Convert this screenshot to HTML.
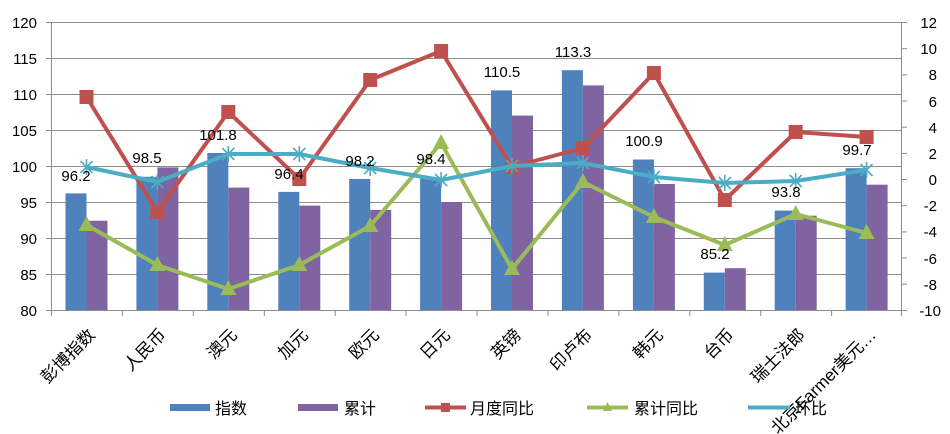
<!DOCTYPE html>
<html><head><meta charset="utf-8"><style>
html,body{margin:0;padding:0;background:#fff;}
svg{display:block;font-family:"Liberation Sans","Noto Sans CJK SC",sans-serif;}
</style></head><body>
<svg width="950" height="434" viewBox="0 0 950 434" xmlns="http://www.w3.org/2000/svg">
<rect width="950" height="434" fill="#fff"/>
<g stroke="#8c8c8c" stroke-width="1">
<line x1="51" y1="22.5" x2="902" y2="22.5"/>
<line x1="51" y1="58.5" x2="902" y2="58.5"/>
<line x1="51" y1="94.5" x2="902" y2="94.5"/>
<line x1="51" y1="130.5" x2="902" y2="130.5"/>
<line x1="51" y1="166.5" x2="902" y2="166.5"/>
<line x1="51" y1="202.5" x2="902" y2="202.5"/>
<line x1="51" y1="238.5" x2="902" y2="238.5"/>
<line x1="51" y1="274.5" x2="902" y2="274.5"/>
</g>
<g fill="#4f81bd">
<rect x="65.5" y="193.4" width="21" height="116.6"/>
<rect x="136.4" y="176.8" width="21" height="133.2"/>
<rect x="207.3" y="153" width="21" height="157"/>
<rect x="278.3" y="191.9" width="21" height="118.1"/>
<rect x="349.2" y="179" width="21" height="131"/>
<rect x="420.1" y="177.5" width="21" height="132.5"/>
<rect x="491" y="90.4" width="21" height="219.6"/>
<rect x="561.9" y="70.2" width="21" height="239.8"/>
<rect x="632.9" y="159.5" width="21" height="150.5"/>
<rect x="703.8" y="272.6" width="21" height="37.4"/>
<rect x="774.7" y="210.6" width="21" height="99.4"/>
<rect x="845.6" y="168.2" width="21" height="141.8"/>
</g>
<g fill="#8064a2">
<rect x="86.5" y="220.7" width="21" height="89.3"/>
<rect x="157.4" y="167.4" width="21" height="142.6"/>
<rect x="228.3" y="187.6" width="21" height="122.4"/>
<rect x="299.3" y="205.6" width="21" height="104.4"/>
<rect x="370.2" y="209.9" width="21" height="100.1"/>
<rect x="441.1" y="202" width="21" height="108"/>
<rect x="512" y="115.6" width="21" height="194.4"/>
<rect x="582.9" y="85.4" width="21" height="224.6"/>
<rect x="653.9" y="184" width="21" height="126"/>
<rect x="724.8" y="268.2" width="21" height="41.8"/>
<rect x="795.7" y="215.7" width="21" height="94.3"/>
<rect x="866.6" y="184.7" width="21" height="125.3"/>
</g>
<g stroke="#8c8c8c" stroke-width="1">
<line x1="51.5" y1="22" x2="51.5" y2="310"/>
<line x1="901.5" y1="22" x2="901.5" y2="310"/>
<line x1="46" y1="310.5" x2="907" y2="310.5"/>
<line x1="51.5" y1="310" x2="51.5" y2="316"/>
<line x1="122.4" y1="310" x2="122.4" y2="316"/>
<line x1="193.3" y1="310" x2="193.3" y2="316"/>
<line x1="264.3" y1="310" x2="264.3" y2="316"/>
<line x1="335.2" y1="310" x2="335.2" y2="316"/>
<line x1="406.1" y1="310" x2="406.1" y2="316"/>
<line x1="477" y1="310" x2="477" y2="316"/>
<line x1="547.9" y1="310" x2="547.9" y2="316"/>
<line x1="618.9" y1="310" x2="618.9" y2="316"/>
<line x1="689.8" y1="310" x2="689.8" y2="316"/>
<line x1="760.7" y1="310" x2="760.7" y2="316"/>
<line x1="831.6" y1="310" x2="831.6" y2="316"/>
<line x1="901.5" y1="310" x2="901.5" y2="316"/>
<line x1="46" y1="22.5" x2="51" y2="22.5"/><line x1="46" y1="58.5" x2="51" y2="58.5"/><line x1="46" y1="94.5" x2="51" y2="94.5"/><line x1="46" y1="130.5" x2="51" y2="130.5"/><line x1="46" y1="166.5" x2="51" y2="166.5"/><line x1="46" y1="202.5" x2="51" y2="202.5"/><line x1="46" y1="238.5" x2="51" y2="238.5"/><line x1="46" y1="274.5" x2="51" y2="274.5"/>
<line x1="902" y1="22.5" x2="907" y2="22.5"/><line x1="902" y1="48.7" x2="907" y2="48.7"/><line x1="902" y1="74.9" x2="907" y2="74.9"/><line x1="902" y1="101" x2="907" y2="101"/><line x1="902" y1="127.2" x2="907" y2="127.2"/><line x1="902" y1="153.4" x2="907" y2="153.4"/><line x1="902" y1="179.5" x2="907" y2="179.5"/><line x1="902" y1="205.7" x2="907" y2="205.7"/><line x1="902" y1="231.9" x2="907" y2="231.9"/><line x1="902" y1="258" x2="907" y2="258"/><line x1="902" y1="284.2" x2="907" y2="284.2"/>
</g>
<g font-size="15" fill="#000" text-anchor="end">
<text x="37" y="28">120</text><text x="37" y="64">115</text><text x="37" y="100">110</text><text x="37" y="136">105</text><text x="37" y="172">100</text><text x="37" y="208">95</text><text x="37" y="244">90</text><text x="37" y="280">85</text><text x="37" y="316">80</text>
</g>
<g font-size="15" fill="#000" text-anchor="end">
<text x="937" y="28">12</text><text x="937" y="54">10</text><text x="937" y="80">8</text><text x="937" y="107">6</text><text x="937" y="133">4</text><text x="937" y="159">2</text><text x="937" y="185">0</text><text x="937" y="211">-2</text><text x="937" y="237">-4</text><text x="937" y="264">-6</text><text x="937" y="290">-8</text><text x="941" y="316">-10</text>
</g>
<polyline fill="none" stroke="#c0504d" stroke-width="4" stroke-linejoin="round" points="86.5,97 157.4,212 228.3,112 299.3,179 370.2,80 441.1,51 512,167 582.9,148 653.9,73 724.8,200 795.7,132 866.6,137"/>
<g fill="#c0504d">
<rect x="79.5" y="90" width="14" height="14"/><rect x="150.4" y="205" width="14" height="14"/><rect x="221.3" y="105" width="14" height="14"/><rect x="292.3" y="172" width="14" height="14"/><rect x="363.2" y="73" width="14" height="14"/><rect x="434.1" y="44" width="14" height="14"/><rect x="505" y="160" width="14" height="14"/><rect x="575.9" y="141" width="14" height="14"/><rect x="646.9" y="66" width="14" height="14"/><rect x="717.8" y="193" width="14" height="14"/><rect x="788.7" y="125" width="14" height="14"/><rect x="859.6" y="130" width="14" height="14"/>
</g>
<polyline fill="none" stroke="#9bbb59" stroke-width="4" stroke-linejoin="round" points="86.5,225 157.4,265 228.3,289 299.3,265 370.2,226 441.1,143 512,269 582.9,182 653.9,217 724.8,245 795.7,214 866.6,233"/>
<g fill="#9bbb59">
<polygon points="86.5,216 94.5,231 78.5,231"/><polygon points="157.4,256 165.4,271 149.4,271"/><polygon points="228.3,280 236.3,295 220.3,295"/><polygon points="299.3,256 307.3,271 291.3,271"/><polygon points="370.2,217 378.2,232 362.2,232"/><polygon points="441.1,134 449.1,149 433.1,149"/><polygon points="512,260 520,275 504,275"/><polygon points="582.9,173 590.9,188 574.9,188"/><polygon points="653.9,208 661.9,223 645.9,223"/><polygon points="724.8,236 732.8,251 716.8,251"/><polygon points="795.7,205 803.7,220 787.7,220"/><polygon points="866.6,224 874.6,239 858.6,239"/>
</g>
<polyline fill="none" stroke="#4bacc6" stroke-width="4" stroke-linejoin="round" points="86.5,167 157.4,182 228.3,154 299.3,154 370.2,168 441.1,180 512,166 582.9,163 653.9,177 724.8,183 795.7,181 866.6,170"/>
<g stroke="#4bacc6" stroke-width="1.6">
<path d="M80.5,161l12,12M92.5,161l-12,12M86.5,159v16"/>
<path d="M151.4,176l12,12M163.4,176l-12,12M157.4,174v16"/>
<path d="M222.3,148l12,12M234.3,148l-12,12M228.3,146v16"/>
<path d="M293.3,148l12,12M305.3,148l-12,12M299.3,146v16"/>
<path d="M364.2,162l12,12M376.2,162l-12,12M370.2,160v16"/>
<path d="M435.1,174l12,12M447.1,174l-12,12M441.1,172v16"/>
<path d="M506,160l12,12M518,160l-12,12M512,158v16"/>
<path d="M576.9,157l12,12M588.9,157l-12,12M582.9,155v16"/>
<path d="M647.9,171l12,12M659.9,171l-12,12M653.9,169v16"/>
<path d="M718.8,177l12,12M730.8,177l-12,12M724.8,175v16"/>
<path d="M789.7,175l12,12M801.7,175l-12,12M795.7,173v16"/>
<path d="M860.6,164l12,12M872.6,164l-12,12M866.6,162v16"/>
</g>
<g font-size="15" fill="#000" text-anchor="middle">
<text x="76" y="181">96.2</text><text x="147" y="163">98.5</text><text x="218" y="140">101.8</text><text x="289" y="179">96.4</text><text x="360" y="166">98.2</text><text x="431" y="164">98.4</text><text x="502" y="77">110.5</text><text x="573" y="57">113.3</text><text x="644" y="146">100.9</text><text x="715" y="259">85.2</text><text x="786" y="197">93.8</text><text x="857" y="155">99.7</text>
</g>
<g font-size="17" fill="#000" text-anchor="end">
<text transform="translate(96,336) rotate(-45)">彭博指数</text>
<text transform="translate(167,336) rotate(-45)">人民币</text>
<text transform="translate(238,336) rotate(-45)">澳元</text>
<text transform="translate(309,336) rotate(-45)">加元</text>
<text transform="translate(380,336) rotate(-45)">欧元</text>
<text transform="translate(451,336) rotate(-45)">日元</text>
<text transform="translate(522,336) rotate(-45)">英镑</text>
<text transform="translate(593,336) rotate(-45)">印卢布</text>
<text transform="translate(664,336) rotate(-45)">韩元</text>
<text transform="translate(735,336) rotate(-45)">台币</text>
<text transform="translate(806,336) rotate(-45)">瑞士法郎</text>
<text transform="translate(877,336) rotate(-45)">北京Farmer美元…</text>
</g>
<rect x="170" y="404" width="40" height="7" fill="#4f81bd"/>
<rect x="298" y="404" width="40" height="7" fill="#8064a2"/>
<line x1="425" y1="407.5" x2="466" y2="407.5" stroke="#c0504d" stroke-width="4"/><rect x="441" y="403" width="9" height="9" fill="#c0504d"/>
<line x1="587" y1="407.5" x2="628" y2="407.5" stroke="#9bbb59" stroke-width="4"/><polygon points="607.5,402 612,411 603,411" fill="#9bbb59"/>
<line x1="748" y1="407.5" x2="790" y2="407.5" stroke="#4bacc6" stroke-width="4"/>
<g font-size="16" fill="#000">
<text x="215" y="414">指数</text>
<text x="344" y="414">累计</text>
<text x="470" y="414">月度同比</text>
<text x="634" y="414">累计同比</text>
<text x="795" y="414">环比</text>
</g>
</svg>
</body></html>
